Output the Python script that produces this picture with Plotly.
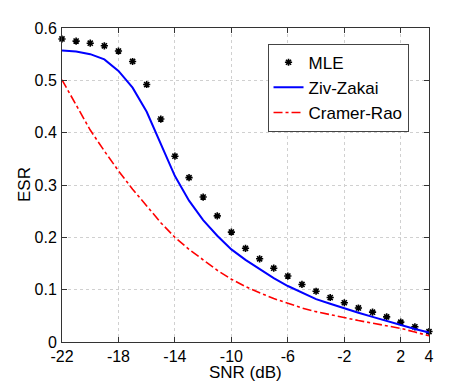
import plotly.graph_objects as go

snr_db = list(range(-22, 5))

mle = [0.579, 0.575, 0.571, 0.566, 0.556, 0.536, 0.492, 0.426, 0.355, 0.314,
       0.277, 0.241, 0.210, 0.179, 0.159, 0.141, 0.126, 0.110, 0.097, 0.085,
       0.075, 0.065, 0.057, 0.048, 0.038, 0.029, 0.020]

ziv_zakai = [0.557, 0.555, 0.550, 0.540, 0.518, 0.486, 0.440, 0.378, 0.317, 0.270,
             0.233, 0.203, 0.177, 0.157, 0.139, 0.122, 0.107, 0.094, 0.082, 0.073,
             0.064, 0.056, 0.048, 0.040, 0.032, 0.025, 0.018]

cramer_rao = [0.501, 0.452, 0.405, 0.365, 0.327, 0.292, 0.260, 0.228, 0.200, 0.177,
              0.157, 0.137, 0.120, 0.106, 0.094, 0.083, 0.074, 0.065, 0.058, 0.052,
              0.046, 0.041, 0.036, 0.031, 0.026, 0.019, 0.012]

x_ticks = [-22, -18, -14, -10, -6, -2, 2, 4]
y_ticks = [0, 0.1, 0.2, 0.3, 0.4, 0.5, 0.6]
y_tick_labels = ["0", "0.1", "0.2", "0.3", "0.4", "0.5", "0.6"]
x_title = "SNR (dB)"
y_title = "ESR"

FONT = "Arial, Liberation Sans, sans-serif"

fig = go.Figure()
fig.add_trace(go.Scatter(
    x=snr_db, y=mle, name="MLE", mode="markers", cliponaxis=False,
    marker=dict(symbol="asterisk", size=6, color="black",
                line=dict(color="black", width=1.6)),
))
fig.add_trace(go.Scatter(
    x=snr_db, y=ziv_zakai, name="Ziv-Zakai", mode="lines",
    line=dict(color="#0000ff", width=2),
))
fig.add_trace(go.Scatter(
    x=snr_db, y=cramer_rao, name="Cramer-Rao", mode="lines",
    line=dict(color="#ff0000", width=1.6, dash="dashdot"),
))

axis_common = dict(
    showline=True, linecolor="#333333", linewidth=1, mirror="ticks",
    ticks="inside", ticklen=5, tickcolor="#333333",
    showgrid=True, gridcolor="#d0d0d0", gridwidth=1, griddash="dot",
    zeroline=False, tickfont=dict(family=FONT, size=16, color="black"),
)

# page body has an 8px default margin, so the figure is offset by 8px
fig.update_layout(
    width=466, height=377,
    margin=dict(l=54, r=45, t=20, b=43),
    paper_bgcolor="white", plot_bgcolor="white",
    font=dict(family=FONT, color="black"),
    showlegend=True,
    legend=dict(
        x=0.56, y=0.95, xanchor="left", yanchor="top",
        bgcolor="white", bordercolor="#444444", borderwidth=1,
        font=dict(family=FONT, size=17, color="black"),
        tracegroupgap=0, itemwidth=30,
    ),
    xaxis=dict(
        range=[-22, 4], tickvals=x_ticks, ticktext=[str(v) for v in x_ticks],
        ticklabelstandoff=0,
        **axis_common,
    ),
    yaxis=dict(
        range=[0, 0.6], tickvals=y_ticks, ticktext=y_tick_labels,
        ticklabelstandoff=1,
        **axis_common,
    ),
    annotations=[
        dict(text=x_title, xref="paper", yref="paper", x=0.5, y=0,
             xanchor="center", yanchor="top", yshift=-19, showarrow=False,
             font=dict(family=FONT, size=17, color="black")),
        dict(text=y_title, xref="paper", yref="paper", x=0, y=0.5,
             xanchor="center", yanchor="middle", xshift=-38, textangle=-90,
             showarrow=False, font=dict(family=FONT, size=17, color="black")),
    ],
)

fig.write_html("out.html")
